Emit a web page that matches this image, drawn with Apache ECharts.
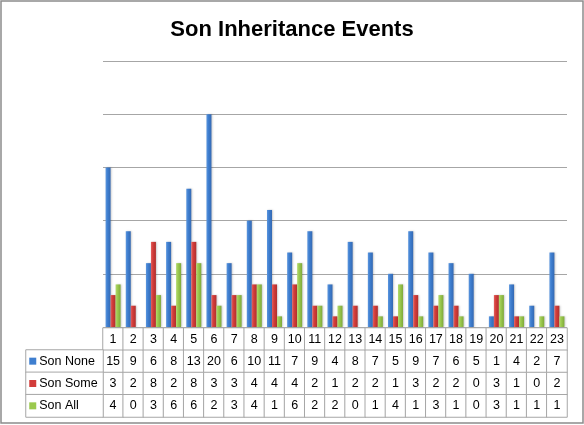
<!DOCTYPE html>
<html><head><meta charset="utf-8">
<script src="https://cdn.jsdelivr.net/npm/echarts@6/dist/echarts.min.js"></script>
<style>html,body{margin:0;padding:0;background:#fff}#c{width:584px;height:425px}</style>
</head><body><div id="c"></div>
<script>
const categories = ['1','2','3','4','5','6','7','8','9','10','11','12','13','14','15','16','17','18','19','20','21','22','23'];
const seriesNames = ['Son None','Son Some','Son All'];
const sonNone = [15,9,6,8,13,20,6,10,11,7,9,4,8,7,5,9,7,6,5,1,4,2,7];
const sonSome = [3,2,8,2,8,3,3,4,4,4,2,1,2,2,1,3,2,2,0,3,1,0,2];
const sonAll  = [4,0,3,6,6,2,3,4,1,6,2,2,0,1,4,1,3,1,0,3,1,1,1];
const values = [sonNone, sonSome, sonAll];
const colors = ['#3E7ECF','#D23C3A','#9BC94E'];
const darkColors = ['#3469B3','#B02F2D','#7FA93A'];
const lightColors = ['#5C96DE','#E2605E','#B3DA6E'];

const FONT = 'Liberation Sans, Arial, sans-serif';
const lineColor = '#A6A6A6';

const chart = echarts.init(document.getElementById('c'), null, {renderer:'canvas'});

const rowNames = ['cat'].concat(seriesNames);
const tableData = [];
categories.forEach((c,i)=>{
  tableData.push([i, 0, Number(c)]);
  values.forEach((arr,s)=>tableData.push([i, s+1, arr[i]]));
});
const legendData = seriesNames.map((n,s)=>[0, s, s]);

const barSeries = seriesNames.map((n,s)=>({
  name:n, type:'bar', xAxisIndex:0, yAxisIndex:0,
  data: values[s], barWidth:5, barGap:'0%',
  itemStyle:{
    color: new echarts.graphic.LinearGradient(0,0,1,0,[
      {offset:0,color:lightColors[s]},{offset:0.4,color:colors[s]},{offset:1,color:darkColors[s]}
    ]),
    shadowColor:'rgba(0,0,0,0.2)', shadowBlur:2, shadowOffsetX:1
  },
  silent:true
}));

chart.setOption({
  animation:false,
  backgroundColor:'#fff',
  title:{text:'Son Inheritance Events', left:'center', top:14,
    textStyle:{fontFamily:FONT, fontWeight:'bold', fontSize:22, color:'#000'}},
  grid:[
    {left:103, right:17, top:61, bottom:98},
    {left:103, right:17, top:328, height:89},
    {left:26, width:77, top:350, height:67}
  ],
  xAxis:[
    {gridIndex:0, type:'category', data:categories, axisLine:{show:false}, axisTick:{show:false}, axisLabel:{show:false}},
    {gridIndex:1, type:'category', data:categories, show:false},
    {gridIndex:2, type:'category', data:['lbl'], show:false}
  ],
  yAxis:[
    {gridIndex:0, type:'value', min:0, max:25, interval:5, axisLine:{show:false}, axisTick:{show:false}, axisLabel:{show:false},
      splitLine:{lineStyle:{color:lineColor, width:1}}},
    {gridIndex:1, type:'category', data:rowNames, inverse:true, show:false},
    {gridIndex:2, type:'category', data:seriesNames, inverse:true, show:false}
  ],
  series: barSeries.concat([
    {type:'heatmap', xAxisIndex:1, yAxisIndex:1, data:tableData, silent:true,
      itemStyle:{color:'#fff', borderColor:lineColor, borderWidth:1},
      label:{show:true, formatter:p=>String(p.value[2]), fontFamily:FONT, fontSize:12.5, color:'#000'},
      emphasis:{disabled:true}},
    {type:'heatmap', xAxisIndex:2, yAxisIndex:2, data:legendData, silent:true,
      itemStyle:{color:'#fff', borderColor:lineColor, borderWidth:1},
      label:{show:true, position:'insideLeft', distance:4,
        formatter:p=>'{s'+p.value[2]+'|}{t|'+seriesNames[p.value[2]]+'}',
        rich:{
          s0:{width:7,height:7,backgroundColor:colors[0]},
          s1:{width:7,height:7,backgroundColor:colors[1]},
          s2:{width:7,height:7,backgroundColor:colors[2]},
          t:{fontFamily:FONT, fontSize:12.5, color:'#000', padding:[0,0,0,3]}
        }},
      emphasis:{disabled:true}}
  ]),
  graphic:[{type:'rect', shape:{x:1, y:1, width:582, height:422}, style:{fill:null, stroke:'#8C8C8C', lineWidth:1.5}, silent:true}]
});
</script></body></html>
